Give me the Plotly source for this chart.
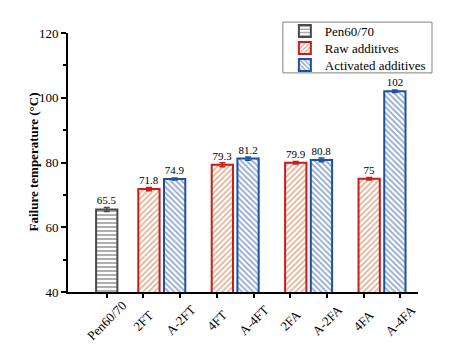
import plotly.graph_objects as go

categories = ["Pen60/70", "2FT", "A-2FT", "4FT", "A-4FT", "2FA", "A-2FA", "4FA", "A-4FA"]
pen_values = [65.5]
pen_err = [0.6]
raw_labels = ["2FT", "4FT", "2FA", "4FA"]
raw_values = [71.8, 79.3, 79.9, 75]
raw_err = [0.5, 0.6, 0.4, 0.4]
act_labels = ["A-2FT", "A-4FT", "A-2FA", "A-4FA"]
act_values = [74.9, 81.2, 80.8, 102]
act_err = [0.3, 0.5, 0.6, 0.4]

FONT = "Liberation Serif"
idx = {c: i for i, c in enumerate(categories)}
shift = 0.15
width = 0.58

fig = go.Figure()

def add(name, labels, vals, errs, line_col, pat_col, shape, dx, legend, ly):
    fig.add_trace(go.Bar(
        name=name,
        x=[idx[l] + dx for l in labels],
        y=vals,
        width=width,
        marker=dict(color="white", line=dict(color=line_col, width=2),
                    pattern=dict(shape=shape, fgcolor=pat_col, bgcolor="white",
                                 size=4, solidity=0.45, fillmode="overlay")),
        error_y=dict(type="data", array=errs, color=line_col, thickness=1.5, width=3),
        text=[f"{v:g}" for v in vals],
        textposition="outside",
        textfont=dict(family=FONT, size=11, color="black"),
        cliponaxis=False,
        legend=legend,
    ))
    fig.layout[legend] = dict(
        xref="container", yref="container", x=0.601, y=ly,
        xanchor="left", yanchor="middle",
        bgcolor="rgba(0,0,0,0)", borderwidth=0,
        font=dict(family=FONT, size=13), itemwidth=30,
    )

add("Pen60/70", ["Pen60/70"], pen_values, pen_err, "#4a4a4a", "#4a4a4a", "-", 0, "legend", 0.9146)
add("Raw additives", raw_labels, raw_values, raw_err, "#c81e1e", "#c0662f", "/", shift, "legend2", 0.8678)
add("Activated additives", act_labels, act_values, act_err, "#2050a0", "#1f4e9e", "\\", -shift, "legend3", 0.8209)

annotations = [dict(text=c, x=i, xref="x", y=-0.109, yref="paper", textangle=-45,
                    xanchor="center", yanchor="middle", showarrow=False,
                    font=dict(family=FONT, size=13, color="black"))
               for i, c in enumerate(categories)]
annotations.append(dict(text="<b>Failure temperature (°C)</b>", x=-0.1, xref="paper", y=0.5, yref="paper",
                        textangle=-90, xanchor="center", yanchor="middle", showarrow=False,
                        font=dict(family=FONT, size=13, color="black")))

fig.update_layout(
    width=474, height=363,
    margin=dict(l=68, r=56, t=33, b=71, autoexpand=False),
    plot_bgcolor="white", paper_bgcolor="white",
    font=dict(family=FONT, size=12, color="black"),
    showlegend=True,
    barmode="overlay",
    annotations=annotations,
    shapes=[dict(type="rect", xref="paper", yref="paper", x0=0.614, x1=1.04, y0=0.846, y1=1.042,
                 line=dict(color="#808080", width=1), fillcolor="rgba(0,0,0,0)", layer="above")],
)
fig.update_xaxes(
    range=[-1.055, 8.48], tickvals=list(range(len(categories))), showticklabels=False,
    ticks="outside", ticklen=4, tickwidth=1.5, tickcolor="black",
    showline=True, linecolor="black", linewidth=2, showgrid=False, zeroline=False,
)
fig.update_yaxes(
    range=[40, 120], tickvals=[40, 60, 80, 100, 120],
    ticks="outside", ticklen=5, tickwidth=1.5, tickcolor="black",
    minor=dict(ticks="outside", dtick=10, ticklen=3, tickcolor="black", tickwidth=1.5),
    showline=True, linecolor="black", linewidth=2, showgrid=False, zeroline=False,
    tickfont=dict(family=FONT, size=13),
)

fig.write_html("out.html", config={"displayModeBar": False},
               post_script="document.body.style.margin='0';document.body.style.padding='0';")
